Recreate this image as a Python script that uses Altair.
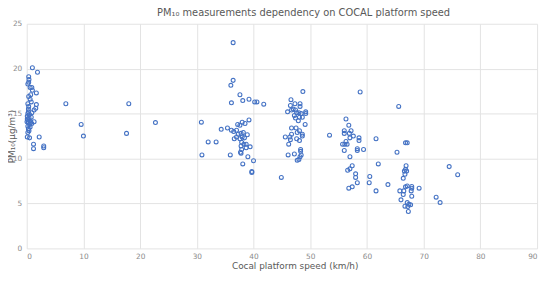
import altair as alt
import pandas as pd

speed = [
    1.0, 1.9, 0.35, 0.4, 0.35, 0.2, 0.6, 0.9, 1.0, 1.7, 0.7, 0.35, 0.6, 0.8, 0.2, 1.7, 0.35, 1.6, 0.3, 1.3,
    0.9, 0.2, 0.5, 0.1, 0.8, 0.4, 0.2, 0.6, 0.05, 1.3, 0.3, 0.9, 0.5, 0.2, 0.6, 0.3, 0.4, 0.2, 0.1, 0.5,
    2.2, 3.0, 3.0, 1.2, 1.2, 0.1, 0.3, 0.7,
    6.9, 9.6, 10.0, 17.6, 18.0, 22.7, 30.8, 30.9, 32.0, 33.4, 34.3, 35.4, 35.9,
    36.4, 36.4, 36.0, 37.6, 38.1, 39.2, 40.2, 40.6, 41.8, 36.1, 36.1, 36.5, 37.0, 37.2, 37.6, 38.0, 38.5, 39.2,
    36.6, 37.0, 37.3, 37.8, 38.2, 38.9, 37.6, 38.0, 38.4, 37.9, 38.3, 38.7, 37.8, 39.4, 38.7, 37.9, 37.7, 37.8,
    39.0, 38.1, 40.0, 39.7, 39.7, 44.9,
    48.7, 46.6, 47.3, 46.5, 48.2, 48.2, 46.7, 47.0, 47.4, 46.0, 47.6, 48.4, 48.0, 49.2, 49.2, 47.2, 48.6, 48.1,
    47.4, 47.9, 49.1, 46.7, 47.5, 48.1, 47.7, 48.6, 48.6, 45.6, 46.4, 46.7, 47.6, 48.1, 46.5, 46.2, 48.3, 48.3,
    47.2, 48.4, 46.1, 48.2, 47.7, 48.0,
    53.4, 58.8, 56.3, 56.8, 56.0, 56.0, 57.2, 56.9, 57.6, 57.0, 58.6, 58.6, 61.6, 56.3, 55.7, 56.1, 56.5, 58.3,
    58.3, 59.4, 56.0, 57.0, 62.0, 57.4, 57.0, 56.6, 58.0, 58.0, 60.5, 60.4, 58.3, 56.8, 57.4, 61.6, 63.7,
    65.6, 66.8, 67.1, 65.3, 66.9, 66.8, 66.6, 67.0, 66.7, 66.4, 66.8, 67.1, 67.9, 67.9, 69.2, 65.8, 66.5, 67.8,
    66.4, 67.9, 66.0, 67.1, 67.4, 66.7, 67.2, 67.7, 67.3, 74.5, 76.0, 72.2, 72.9,
]
pm10 = [
    20.1, 19.6, 19.1, 18.8, 18.5, 18.3, 17.9, 17.9, 17.6, 17.3, 17.1, 16.9, 16.6, 16.3, 16.1, 16.0, 15.8, 15.6, 15.5, 15.4,
    15.1, 15.0, 14.9, 14.7, 14.6, 14.5, 14.3, 14.2, 14.1, 14.1, 14.0, 13.9, 13.8, 13.6, 13.5, 13.3, 13.1, 12.9, 12.4, 12.3,
    12.4, 11.4, 11.2, 11.6, 11.1, 14.4, 15.2, 14.0,
    16.1, 13.8, 12.5, 12.8, 16.1, 14.0, 14.05, 10.4, 11.85, 11.85, 13.25, 13.4, 10.4,
    22.9, 18.7, 18.15, 17.1, 16.45, 16.6, 16.3, 16.3, 16.05, 16.2, 13.15, 13.0, 13.15, 13.8, 13.7, 14.05, 13.9, 14.3,
    12.2, 12.4, 12.7, 12.8, 12.9, 12.65, 12.2, 12.4, 12.3, 11.8, 11.6, 11.6, 11.4, 11.3, 11.2, 11.0, 10.7, 10.6,
    10.2, 9.4, 9.75, 8.55, 8.45, 7.9,
    17.45, 16.55, 16.1, 15.9, 16.1, 15.8, 15.4, 15.5, 15.4, 15.2, 15.1, 15.0, 15.1, 15.2, 15.0, 14.8, 14.6, 14.6,
    14.5, 14.2, 13.8, 13.4, 13.4, 13.1, 12.9, 12.7, 12.5, 12.4, 12.4, 12.7, 12.2, 12.0, 12.1, 11.6, 11.0, 10.8,
    10.5, 10.4, 10.4, 10.2, 9.8, 9.9,
    12.6, 17.4, 14.4, 13.7, 13.1, 12.8, 13.1, 12.8, 12.5, 12.3, 12.3, 12.0, 12.2, 11.9, 11.6, 11.6, 11.6, 11.1,
    10.9, 11.0, 10.9, 10.2, 9.4, 9.2, 8.85, 8.7, 8.3, 7.9, 8.0, 7.3, 7.3, 6.7, 6.85, 6.4, 7.1,
    15.8, 11.75, 11.75, 10.7, 9.2, 8.8, 8.6, 8.6, 8.25, 7.8, 6.85, 6.95, 6.9, 6.7, 6.7, 6.4, 6.4, 6.4,
    6.0, 5.8, 5.4, 5.1, 4.9, 4.7, 4.65, 4.85, 4.1, 9.1, 8.2, 5.7, 5.1,
]

df = pd.DataFrame({"speed": speed, "pm10": pm10})

FONT = "DejaVu Sans"
TXT = "#595959"
LBL = "#8c8c8c"
GRID = "#e3e3e3"

chart = alt.Chart(df).mark_point(
    shape="circle", filled=False, size=16, strokeWidth=1.1, color="#4472C4", opacity=1
).encode(
    x=alt.X("speed:Q", scale=alt.Scale(domain=[0, 90], nice=False),
            axis=alt.Axis(values=list(range(0, 91, 10)), title="Cocal platform speed (km/h)",
                          labelFontSize=7.5, labelColor=LBL, labelPadding=4, labelFont=FONT,
                          titleFont=FONT, titleFontSize=9, titleColor=TXT, titleFontWeight="normal",
                          titlePadding=2, titleX=272, ticks=False, domain=False, gridColor=GRID)),
    y=alt.Y("pm10:Q", scale=alt.Scale(domain=[0, 25], nice=False),
            axis=alt.Axis(values=list(range(0, 26, 5)), title="PM₁₀(μg/m³)",
                          labelFontSize=7.5, labelColor=LBL, labelPadding=5, labelFont=FONT,
                          titleFont=FONT, titleFontSize=9, titleColor=TXT, titleFontWeight="normal",
                          titleX=-10, ticks=False, domain=False, gridColor=GRID)),
).properties(
    width=518, height=228,
    title=alt.TitleParams("PM₁₀ measurements dependency on COCAL platform speed",
                          font=FONT, fontSize=10, color=TXT, fontWeight="normal",
                          anchor="middle", offset=2, dx=22),
    autosize=alt.AutoSizeParams(type="none"),
    padding={"left": 19, "top": 14, "right": 5, "bottom": 24},
).configure_view(stroke=None)

chart.save("out.html", embed_options={"renderer": "svg", "actions": False})
